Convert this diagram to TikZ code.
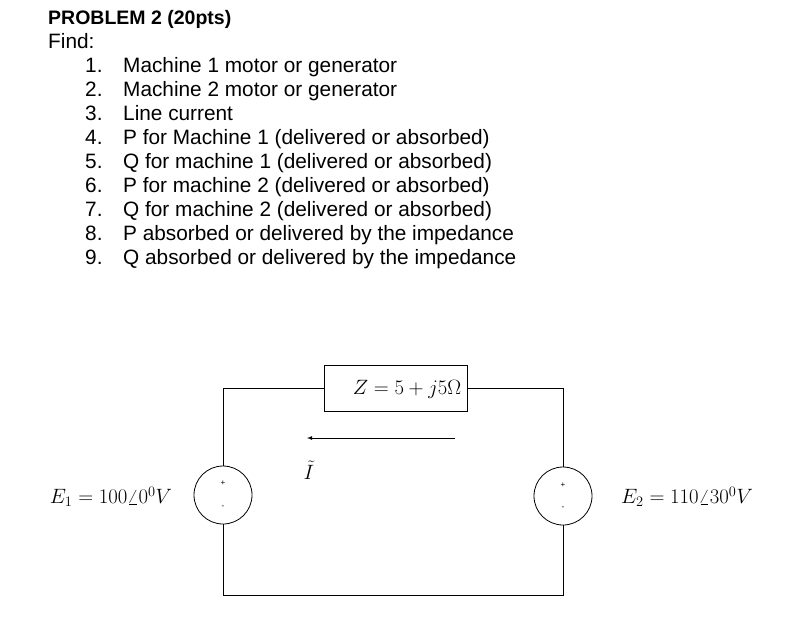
\documentclass[tikz,border=0pt]{standalone}
\usepackage{fontspec}
\setmainfont{Liberation Sans}
\newfontfamily\serif{Liberation Serif}
\begin{document}
\begin{tikzpicture}[x=1pt,y=-1pt,
  txt/.style={anchor=base west,inner sep=0,font=\fontsize{20.8}{24}\selectfont},
  wire/.style={draw,line width=0.8pt},
  src/.style={draw,circle,minimum size=58pt,inner sep=0,line width=0.8pt},
  pm/.style={font=\fontsize{8}{8}\selectfont,inner sep=0}]
\path[use as bounding box] (0,0) rectangle (810,641);
\node[txt,font=\fontsize{19.5}{22}\selectfont\bfseries] (title) at (48,24) {PROBLEM 2 (20pts)};
\node[txt] (find) at (48,48) {Find:};
\foreach \n/\t [count=\i] in {1/Machine 1 motor or generator,2/Machine 2 motor or generator,3/Line current,4/P for Machine 1 (delivered or absorbed),5/Q for machine 1 (delivered or absorbed),6/P for machine 2 (delivered or absorbed),7/Q for machine 2 (delivered or absorbed),8/P absorbed or delivered by the impedance,9/Q absorbed or delivered by the impedance}{
  \node[txt] (num\i) at (85,{48+24*\i}) {\n.};
  \node[txt] (item\i) at (123,{48+24*\i}) {\t};
}
\node[draw,line width=0.8pt,minimum width=143pt,minimum height=46pt,inner sep=0] (Z) at (395.5,388) {};
\node[font=\fontsize{21}{21}\selectfont] (zl) at (407,389) {$Z = 5 + j5\Omega$};
\node[src] (S1) at (223,495) {};
\node[src] (S2) at (563,496) {};
\node[pm] (p1) at (223,483) {+};
\node[pm] (m1) at (223,507) {-};
\node[pm] (p2) at (563,485) {+};
\node[pm] (m2) at (563,508) {-};
\coordinate (tl) at (223,388); \coordinate (tr) at (563,388);
\coordinate (bl) at (223,595); \coordinate (br) at (563,595);
\draw[wire] (S1.north) -- (tl) -- (Z.west);
\draw[wire] (Z.east) -- (tr) -- (S2.north);
\draw[wire] (S1.south) -- (bl) -- (br) -- (S2.south);
\coordinate (a1) at (455,438); \coordinate (a2) at (307,438);
\draw[line width=0.8pt,-latex] (a1) -- (a2);
\node[font=\fontsize{21}{21}\selectfont,inner sep=1pt] (I) at (309,470) {$\tilde I$};
\node[font=\fontsize{21}{21}\selectfont] (E1) at (111,497) {$E_1 = 100\angle 0^0 V$};
\node[font=\fontsize{21}{21}\selectfont] (E2) at (687,497) {$E_2 = 110\angle 30^0 V$};
\end{tikzpicture}
\end{document}
